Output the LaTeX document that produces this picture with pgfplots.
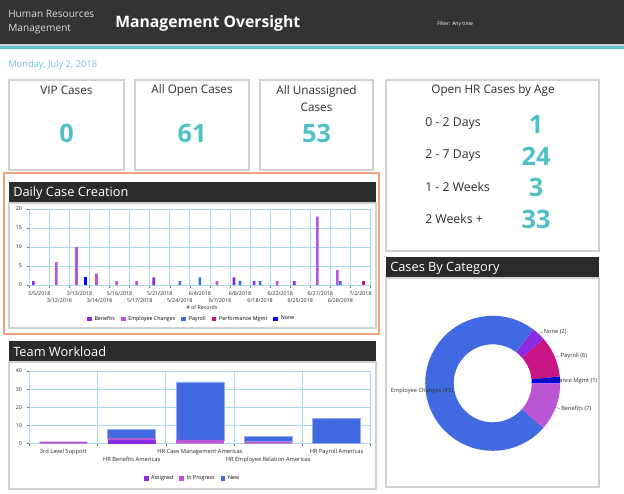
\documentclass[border=0pt]{standalone}
\usepackage{fontspec}
\setmainfont{Open Sans}
\usepackage{pgfplots}
\usepackage{pgfplotstable}
\pgfplotsset{compat=1.18}

% palette
\definecolor{hdr}{RGB}{51,51,51}
\definecolor{titlebar}{RGB}{43,43,43}
\definecolor{tealline}{RGB}{96,196,204}
\definecolor{kpi}{RGB}{79,193,198}
\definecolor{datec}{RGB}{110,200,208}
\definecolor{frame}{RGB}{208,208,208}
\definecolor{hilite}{RGB}{241,160,126}
\definecolor{gridc}{RGB}{168,218,236}
\definecolor{textc}{RGB}{45,45,45}
\definecolor{ticktext}{RGB}{40,40,40}
\definecolor{cviolet}{RGB}{138,43,226}
\definecolor{corchid}{RGB}{186,85,211}
\definecolor{croyal}{RGB}{65,105,225}
\definecolor{cmagenta}{RGB}{199,21,133}
\definecolor{cblue}{RGB}{0,0,255}

\newcommand\fsz[2]{\fontsize{#1pt}{#2pt}\selectfont}

% Daily case creation: day index (0 = 3/5/2018 ... 16 = 7/2/2018), records
\pgfplotstableread{
day count
0 1
6 2
10 2
11 1
13 1
}\dailyBenefits
\pgfplotstableread{
day count
1 6
2 10
3 3
4 1
5 1
9 1
12 1
14 18
15 4
}\dailyEmployee
\pgfplotstableread{
day count
7 1
8 2
10 1
11 1
15 1
}\dailyPayroll
\pgfplotstableread{
day count
16 1
}\dailyPerf
\pgfplotstableread{
day count
2 2
}\dailyNone

% Team workload by status
\pgfplotstableread{
team assigned inprogress new
0 0 1 0
1 2 1 5
2 0 2 32
3 0 1 3
4 0 0 14
}\workload

% Cases by category
\def\nPerf{1}\def\nPayroll{6}\def\nNone{2}\def\nEmp{45}\def\nBen{7}

\pgfplotsset{
  square legend/.style={
    legend image code/.code={\draw[##1,draw=none] (0pt,-1.8pt) rectangle (3.6pt,1.8pt);}},
  dash chart/.style={
    scale only axis, anchor=south west,
    axis line style={gridc, line width=0.6pt},
    grid style={gridc, line width=0.6pt},
    minor grid style={gridc, line width=0.6pt},
    ymajorgrids, xminorgrids,
    tick align=outside, xtick pos=bottom, ytick pos=left,
    major tick length=2pt, minor tick length=2pt,
    tick style={black!55, line width=0.4pt},
    major x tick style={draw=none},
    tick label style={font=\fsz{4}{5.7}, text=ticktext},
    xticklabel style={align=center, yshift=2pt},
    /pgf/number format/assume math mode=true,
    ymin=0,
    legend columns=-1,
    legend style={draw=none, fill=none, font=\fsz{4}{5},
      /tikz/every even column/.append style={column sep=2.5pt}},
    square legend,
  },
}

\begin{document}
\begin{tikzpicture}[x=0.75pt, y=-0.75pt]
\useasboundingbox (0,0) rectangle (624,493);
\fill[white] (0,0) rectangle (624,493);

% header band
\fill[hdr] (0,0) rectangle (624,44);
\fill[black!18] (0,44) rectangle (624,46);
\fill[tealline] (0,46) rectangle (624,48.5);
\node[anchor=west, text=white!85!black, font=\fsz{7.6}{10.5}, align=left, inner sep=0] at (8,22.5) {Human Resources\\Management};
\node[anchor=west, text=white, font=\bfseries\fsz{11.8}{14}, inner sep=0] at (115,23) {Management Oversight};
\node[anchor=west, text=white, font=\fsz{3.8}{5}, inner sep=0] at (437,24) {Filter: Any time};
\node[anchor=west, text=datec, font=\fsz{7}{9}, inner sep=0] at (8,65) {Monday, July 2, 2018};

% KPI tiles
\foreach \xa/\xb in {9/124,135/249,260/373}
  \draw[frame, line width=1.1pt] (\xa,80) rectangle (\xb,170);
\draw[frame, line width=1.1pt] (386,80) rectangle (599,251);
\node[font=\fsz{8.8}{12}, text=textc] at (66.5,90) {VIP Cases};
\node[font=\bfseries\fsz{19}{22}, text=kpi] at (66.5,133) {0};
\node[font=\fsz{8.8}{12}, text=textc] at (192,90) {All Open Cases};
\node[font=\bfseries\fsz{19}{22}, text=kpi] at (192,133) {61};
\node[font=\fsz{8.8}{12.75}, text=textc, align=center] at (316.5,98.5) {All Unassigned\\Cases};
\node[font=\bfseries\fsz{19}{22}, text=kpi] at (316.5,133) {53};

\node[font=\fsz{8.8}{12}, text=textc] at (493,90) {Open HR Cases by Age};
\foreach \yy/\lab/\val in {124/0 - 2 Days/1, 156/2 - 7 Days/24, 187/1 - 2 Weeks/3, 219/2 Weeks +/33}{
  \node[anchor=west, font=\fsz{9.2}{12}, text=textc, inner sep=0] at (425,\yy) {\lab};
  \node[font=\bfseries\fsz{19}{22}, text=kpi] at (536,\yy) {\val};
}

% panel frames
\draw[hilite, line width=1.2pt] (4,173) rectangle (379,334);
\fill[titlebar] (9,182) rectangle (376,203);
\draw[frame, line width=1pt] (9,203) rectangle (376,328);
\node[anchor=west, text=white, font=\fsz{9.6}{12}, inner sep=0] at (13,193) {Daily Case Creation};

\fill[titlebar] (9,341) rectangle (376,362);
\draw[frame, line width=1pt] (9,362) rectangle (376,489);
\node[anchor=west, text=white, font=\fsz{9.6}{12}, inner sep=0] at (13,352) {Team Workload};

\fill[titlebar] (386,257) rectangle (599,278);
\draw[frame, line width=1pt] (386,278) rectangle (599,487);
\node[anchor=west, text=white, font=\fsz{9.6}{12}, inner sep=0] at (390,268) {Cases By Category};

\coordinate (dailyO) at (29.3,285);
\coordinate (teamO) at (29.3,443.5);
\coordinate (donutC) at (492.7,383.3);

% daily case creation
\begin{axis}[dash chart, at={(dailyO)},
  width=255.9pt, height=57pt,
  xmin=-0.5, xmax=16.5, ymax=20,
  ytick={0,5,10,15,20},
  xtick={0,...,16},
  minor xtick={-0.5,0.5,...,16.5},
  xticklabels={\strut 3/5/2018, {\strut\\\strut 3/12/2018}, \strut 3/13/2018, {\strut\\\strut 3/14/2018},
    \strut 5/16/2018, {\strut\\\strut 5/17/2018}, \strut 5/21/2018, {\strut\\\strut 5/24/2018},
    \strut 6/4/2018, {\strut\\\strut 6/7/2018}, \strut 6/8/2018, {\strut\\\strut 6/18/2018},
    \strut 6/22/2018, {\strut\\\strut 6/25/2018}, \strut 6/27/2018, {\strut\\\strut 6/28/2018},
    \strut 7/2/2018},
  xlabel={\# of Records},
  xlabel style={at={(axis description cs:0.506,-0.30)}, anchor=center, font=\fsz{4}{5}, text=ticktext},
  legend style={at={(0.477,-0.447)}, anchor=center},
]
\addplot[ybar, fill=cviolet, draw=none, bar width=0.13, bar shift=-0.3] table[x=day, y=count] {\dailyBenefits};
\addlegendentry{Benefits}
\addplot[ybar, fill=corchid, draw=none, bar width=0.13, bar shift=-0.15] table[x=day, y=count] {\dailyEmployee};
\addlegendentry{Employee Changes}
\addplot[ybar, fill=croyal, draw=none, bar width=0.13, bar shift=0] table[x=day, y=count] {\dailyPayroll};
\addlegendentry{Payroll}
\addplot[ybar, fill=cmagenta, draw=none, bar width=0.13, bar shift=0.15] table[x=day, y=count] {\dailyPerf};
\addlegendentry{Performance Mgmt}
\addplot[ybar, fill=cblue, draw=none, bar width=0.13, bar shift=0.3] table[x=day, y=count] {\dailyNone};
\addlegendentry{None}
\end{axis}

% team workload
\begin{axis}[ybar stacked, bar width=0.7, dash chart, at={(teamO)},
  width=256pt, height=54.4pt,
  xmin=-0.5, xmax=4.5, ymax=40,
  ytick={0,10,20,30,40},
  xtick={0,...,4},
  minor xtick={-0.5,0.5,...,4.5},
  xticklabel style={font=\fsz{4.3}{6.2}, yshift=0.5pt},
  xticklabels={\strut 3rd Level Support, {\strut\\\strut HR Benefits Americas}, \strut HR Case Management Americas,
    {\strut\\\strut HR Employee Relation Americas}, \strut HR Payroll Americas},
  legend style={at={(0.479,-0.48)}, anchor=center},
]
\addplot[fill=cviolet, draw=none, square legend] table[x=team, y=assigned] {\workload};
\addlegendentry{Assigned}
\addplot[fill=corchid, draw=none, square legend] table[x=team, y=inprogress] {\workload};
\addlegendentry{In Progress}
\addplot[fill=croyal, draw=croyal!55!white, line width=0.5pt, square legend] table[x=team, y=new] {\workload};
\addlegendentry{New}
\end{axis}

% cases by category (donut)
\pgfmathsetmacro\tot{\nPerf+\nPayroll+\nNone+\nEmp+\nBen}
\pgfmathsetmacro\aA{0}
\pgfmathsetmacro\aB{\aA+360*\nPerf/\tot}
\pgfmathsetmacro\aC{\aB+360*\nPayroll/\tot}
\pgfmathsetmacro\aD{\aC+360*\nNone/\tot}
\pgfmathsetmacro\aE{\aD+360*\nEmp/\tot}
\pgfmathsetmacro\aF{\aE+360*\nBen/\tot}
\newcommand\slice[3]{%
  \fill[#3, shift={(axis cs:0,0)}] (#1:50.6pt) arc[start angle=#1, end angle=#2, radius=50.6pt]
    -- (#2:29.25pt) arc[start angle=#2, end angle=#1, radius=29.25pt] -- cycle;}
\begin{axis}[at={(donutC)}, anchor=center, hide axis,
  x=50.6pt, y=50.6pt, xmin=-1, xmax=1, ymin=-1, ymax=1]
\slice{\aA}{\aB}{cblue}
\slice{\aB}{\aC}{cmagenta}
\slice{\aC}{\aD}{cviolet}
\slice{\aD}{\aE}{croyal}
\slice{\aE}{\aF}{corchid}
\end{axis}

% slice labels
\begin{scope}[font=\fsz{4.3}{5}, text=textc, every node/.style={inner sep=0}]
\draw[black!45, line width=0.3pt] (538.5,333.8) -- (543,331.7);
\node[anchor=west] at (543.5,331.7) {None (2)};
\draw[black!45, line width=0.3pt] (554.6,356.3) -- (560,356);
\node[anchor=west] at (560.5,356) {Payroll (6)};
\node[anchor=west] at (537,380.7) {Performance Mgmt (1)};
\draw[black!45, line width=0.3pt] (555.8,407.2) -- (560.5,409);
\node[anchor=west] at (561,409) {Benefits (7)};
\node[anchor=west] at (390.7,391.3) {Employee Changes (45)};
\end{scope}
\end{tikzpicture}
\end{document}
